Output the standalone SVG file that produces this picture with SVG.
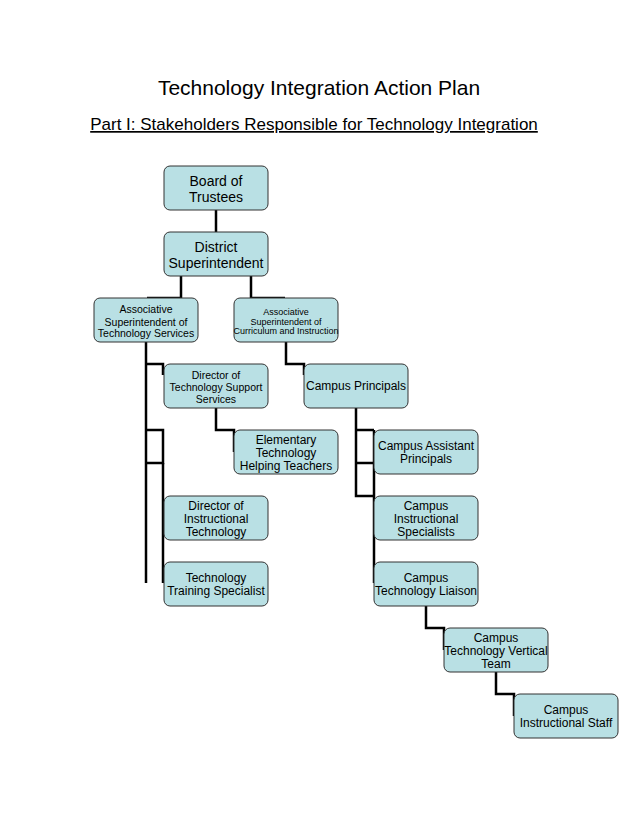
<svg xmlns="http://www.w3.org/2000/svg" width="638" height="826" viewBox="0 0 638 826">
<style>
.n{fill:#b9e0e4;stroke:#333;stroke-width:1}
.t{font-family:"Liberation Sans",Arial,sans-serif;font-size:12px;text-anchor:middle;fill:#000}
.b{font-size:14px}
.s{font-size:9px}
.c{fill:none;stroke:#000;stroke-width:2.5}
</style>
<rect width="638" height="826" fill="#fff"/>
<text x="319" y="95" class="t" style="font-size:21px">Technology Integration Action Plan</text>
<text x="314" y="130" class="t" style="font-size:17px;text-decoration:underline">Part I: Stakeholders Responsible for Technology Integration</text>
<g id="connectors" class="c">
<path class="c" d="M216 210V232"/>
<path class="c" d="M181 276V298H147"/>
<path class="c" d="M251 276V298H285"/>
<path class="c" d="M146 342V583"/>
<path class="c" d="M146 364H163V375"/>
<path class="c" d="M146 430H163V463H146"/>
<path class="c" d="M163 463V583"/>
<path class="c" d="M216 408V430H234V452"/>
<path class="c" d="M286 342V364H304V375"/>
<path class="c" d="M356 408V496H374"/>
<path class="c" d="M356 430H374"/>
<path class="c" d="M356 463H374"/>
<path class="c" d="M374 430V583"/>
<path class="c" d="M426 606V628H444V650"/>
<path class="c" d="M496 672V694H514V716"/>
</g>
<g id="board"><rect class="n" x="164" y="166" width="104" height="44" rx="6"/><text class="t b" x="216" y="186">Board of</text><text class="t b" x="216" y="202">Trustees</text></g>
<g id="district"><rect class="n" x="164" y="232" width="104" height="44" rx="6"/><text class="t b" x="216" y="252">District</text><text class="t b" x="216" y="268">Superintendent</text></g>
<g id="assoctech"><rect class="n" x="94" y="298" width="104" height="44" rx="6"/><text class="t" style="font-size:10.5px" x="146" y="313">Associative</text><text class="t" style="font-size:10.5px" x="146" y="326">Superintendent of</text><text class="t" style="font-size:10.5px" x="146" y="337">Technology Services</text></g>
<g id="assoccurr"><rect class="n" x="234" y="298" width="104" height="44" rx="6"/><text class="t s" x="286" y="315">Associative</text><text class="t s" x="286" y="325">Superintendent of</text><text class="t s" x="286" y="334">Curriculum and Instruction</text></g>
<g id="dirtss"><rect class="n" x="164" y="364" width="104" height="44" rx="6"/><text class="t" style="font-size:10.5px" x="216" y="379">Director of</text><text class="t" style="font-size:10.5px" x="216" y="391">Technology Support</text><text class="t" style="font-size:10.5px" x="216" y="403">Services</text></g>
<g id="principals"><rect class="n" x="304" y="364" width="104" height="44" rx="6"/><text class="t" x="356" y="390">Campus Principals</text></g>
<g id="etht"><rect class="n" x="234" y="430" width="104" height="44" rx="6"/><text class="t" x="286" y="444">Elementary</text><text class="t" x="286" y="457">Technology</text><text class="t" x="286" y="470">Helping Teachers</text></g>
<g id="cap"><rect class="n" x="374" y="430" width="104" height="44" rx="6"/><text class="t" x="426" y="450">Campus Assistant</text><text class="t" x="426" y="463">Principals</text></g>
<g id="dirit"><rect class="n" x="164" y="496" width="104" height="44" rx="6"/><text class="t" x="216" y="510">Director of</text><text class="t" x="216" y="523">Instructional</text><text class="t" x="216" y="536">Technology</text></g>
<g id="cis"><rect class="n" x="374" y="496" width="104" height="44" rx="6"/><text class="t" x="426" y="510">Campus</text><text class="t" x="426" y="523">Instructional</text><text class="t" x="426" y="536">Specialists</text></g>
<g id="tts"><rect class="n" x="164" y="562" width="104" height="44" rx="6"/><text class="t" x="216" y="582">Technology</text><text class="t" x="216" y="595">Training Specialist</text></g>
<g id="ctl"><rect class="n" x="374" y="562" width="104" height="44" rx="6"/><text class="t" x="426" y="582">Campus</text><text class="t" x="426" y="595">Technology Liaison</text></g>
<g id="ctvt"><rect class="n" x="444" y="628" width="104" height="44" rx="6"/><text class="t" x="496" y="642">Campus</text><text class="t" x="496" y="655">Technology Vertical</text><text class="t" x="496" y="668">Team</text></g>
<g id="staff"><rect class="n" x="514" y="694" width="104" height="44" rx="6"/><text class="t" x="566" y="714">Campus</text><text class="t" x="566" y="727">Instructional Staff</text></g>
</svg>
